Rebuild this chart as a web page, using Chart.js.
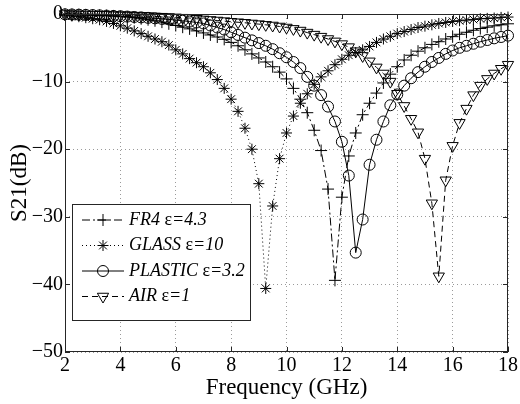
<!DOCTYPE html>
<html>
<head>
<meta charset="utf-8">
<title>S21 vs Frequency</title>
<script src="https://cdn.jsdelivr.net/npm/chart.js@4.4.0/dist/chart.umd.min.js"></script>
<style>
    html, body { margin: 0; padding: 0; background: #ffffff; }
    #wrap { width: 520px; height: 404px; }
</style>
</head>
<body>
<div id="wrap"><canvas id="s21Chart"></canvas></div>
<script>
// Frequency samples (GHz)
const freqGHz = [
    2, 2.25, 2.5, 2.75, 3, 3.25, 3.5, 3.75, 4, 4.25, 4.5, 4.75, 5,
    5.25, 5.5, 5.75, 6, 6.25, 6.5, 6.75, 7, 7.25, 7.5, 7.75, 8,
    8.25, 8.5, 8.75, 9, 9.25, 9.5, 9.75, 10, 10.25, 10.5, 10.75, 11,
    11.25, 11.5, 11.75, 12, 12.25, 12.5, 12.75, 13, 13.25, 13.5, 13.75, 14,
    14.25, 14.5, 14.75, 15, 15.25, 15.5, 15.75, 16, 16.25, 16.5, 16.75, 17,
    17.25, 17.5, 17.75, 18
];

// S21 (dB) per substrate
const fr4Db = [
    -0.05, -0.08, -0.1, -0.13, -0.17, -0.2, -0.25, -0.3, -0.37, -0.45, -0.55, -0.7, -0.85,
    -1.0, -1.2, -1.45, -1.7, -1.95, -2.2, -2.5, -2.8, -3.1, -3.4, -3.75, -4.2,
    -4.7, -5.3, -5.9, -6.5, -7.1, -7.8, -8.6, -9.6, -11.0, -12.6, -14.6, -17.2,
    -20.2, -25.9, -39.4, -27.1, -21.0, -17.6, -14.9, -13.2, -11.7, -10.2, -8.9, -7.8,
    -6.8, -6.1, -5.5, -5.0, -4.5, -4.1, -3.7, -3.35, -3.0, -2.7, -2.4, -2.15,
    -1.95, -1.75, -1.6, -1.45
];
const glassDb = [
    -0.2, -0.3, -0.4, -0.55, -0.7, -0.85, -1.1, -1.4, -1.75, -2.1, -2.5, -2.9, -3.3,
    -3.7, -4.1, -4.6, -5.3, -5.9, -6.6, -7.2, -7.8, -8.7, -9.7, -11.0, -12.6,
    -14.4, -16.9, -20.0, -25.1, -40.6, -28.4, -21.4, -17.6, -15.1, -13.2, -11.8, -10.4,
    -9.3, -8.4, -7.5, -6.7, -6.1, -5.7, -5.3, -4.8, -4.2, -3.7, -3.3, -2.9,
    -2.6, -2.3, -2.0, -1.8, -1.6, -1.4, -1.25, -1.1, -1.0, -0.9, -0.8, -0.7,
    -0.65, -0.6, -0.5, -0.45
];
const plasticDb = [
    -0.05, -0.07, -0.1, -0.13, -0.16, -0.2, -0.24, -0.28, -0.33, -0.38, -0.44, -0.5, -0.57,
    -0.64, -0.72, -0.8, -0.9, -1.0, -1.12, -1.25, -1.4, -1.7, -2.0, -2.3, -2.7,
    -3.1, -3.5, -3.9, -4.3, -4.7, -5.2, -5.8, -6.4, -7.1, -8.0, -9.3, -10.6,
    -12.0, -13.7, -15.9, -18.9, -23.9, -35.3, -30.4, -22.3, -18.6, -15.9, -13.5, -11.9,
    -10.6, -9.5, -8.6, -7.8, -7.1, -6.5, -5.9, -5.4, -5.0, -4.7, -4.4, -4.1,
    -3.85, -3.6, -3.4, -3.2
];
const airDb = [
    0, -0.02, -0.04, -0.06, -0.08, -0.1, -0.12, -0.15, -0.18, -0.21, -0.24, -0.28, -0.32,
    -0.36, -0.4, -0.45, -0.5, -0.55, -0.6, -0.7, -0.8, -0.88, -0.96, -1.05, -1.15,
    -1.22, -1.3, -1.4, -1.5, -1.6, -1.7, -1.85, -2.0, -2.2, -2.45, -2.75, -3.05,
    -3.35, -3.7, -4.05, -4.45, -4.9, -5.5, -6.2, -7.0, -7.9, -8.8, -10.0, -11.8,
    -13.6, -15.5, -17.5, -21.4, -28.0, -38.8, -24.6, -19.5, -16.1, -14.0, -12.0, -10.6,
    -9.6, -8.8, -8.1, -7.5
];

const seriesNames = ['FR4', 'GLASS', 'PLASTIC', 'AIR'];
const seriesEps = ['4.3', '10', '3.2', '1'];
const xTicks = [2, 4, 6, 8, 10, 12, 14, 16, 18];
const yTicks = [0, -10, -20, -30, -40, -50];

const SERIF = '"Liberation Serif", "Times New Roman", serif';
const INK = '#000000';

// marker + line style per series (MATLAB look)
const seriesStyle = [
    { marker: 'cross',    radius: 6,   dash: [8, 3, 2, 3] },
    { marker: 'star',     radius: 5.5, dash: [1, 3] },
    { marker: 'circle',   radius: 5.5, dash: [] },
    { marker: 'triangle', radius: 6.5, dash: [6, 4] }
];

function toPoints(values) {
    return freqGHz.map((f, i) => ({ x: f, y: values[i] }));
}

function minusSign(v) {
    return v < 0 ? '\u2212' + Math.abs(v) : String(v);
}

// Same shapes Chart.js uses, for the legend samples
function drawMarker(ctx, style, x, y, r) {
    ctx.beginPath();
    if (style === 'cross' || style === 'star') {
        ctx.moveTo(x - r, y); ctx.lineTo(x + r, y);
        ctx.moveTo(x, y - r); ctx.lineTo(x, y + r);
        if (style === 'star') {
            const d = r * Math.SQRT1_2;
            ctx.moveTo(x - d, y - d); ctx.lineTo(x + d, y + d);
            ctx.moveTo(x - d, y + d); ctx.lineTo(x + d, y - d);
        }
    } else if (style === 'circle') {
        ctx.arc(x, y, r, 0, Math.PI * 2);
    } else if (style === 'triangle') {
        const s = Math.sin(Math.PI / 3) * r;
        ctx.moveTo(x, y + r);
        ctx.lineTo(x - s, y - r / 2);
        ctx.lineTo(x + s, y - r / 2);
        ctx.closePath();
    }
    ctx.stroke();
}

// Box around the axes with inward ticks
const framePlugin = {
    id: 'frame',
    afterDatasetsDraw(chart) {
        const { ctx, chartArea: a, scales } = chart;
        ctx.save();
        ctx.strokeStyle = '#262626';
        ctx.lineWidth = 1;
        ctx.setLineDash([]);
        ctx.strokeRect(Math.round(a.left) + 0.5, Math.round(a.top) + 0.5,
            Math.round(a.width) - 1, Math.round(a.height) - 1);
        ctx.beginPath();
        scales.x.ticks.forEach(t => {
            const px = Math.round(scales.x.getPixelForValue(t.value)) + 0.5;
            ctx.moveTo(px, a.bottom); ctx.lineTo(px, a.bottom - 5);
            ctx.moveTo(px, a.top); ctx.lineTo(px, a.top + 5);
        });
        scales.y.ticks.forEach(t => {
            const py = Math.round(scales.y.getPixelForValue(t.value)) + 0.5;
            ctx.moveTo(a.left, py); ctx.lineTo(a.left + 5, py);
            ctx.moveTo(a.right, py); ctx.lineTo(a.right - 5, py);
        });
        ctx.stroke();
        ctx.restore();
    }
};

// Legend box in the lower-left of the axes
const legendPlugin = {
    id: 'insetLegend',
    afterDraw(chart) {
        const { ctx, chartArea: a } = chart;
        const left = a.left + 7, top = 204, w = 178, h = 116;
        ctx.save();
        ctx.fillStyle = '#ffffff';
        ctx.fillRect(left, top, w, h);
        ctx.strokeStyle = '#262626';
        ctx.lineWidth = 1;
        ctx.strokeRect(left + 0.5, top + 0.5, w, h);

        chart.data.datasets.forEach((ds, i) => {
            const st = seriesStyle[i];
            const cy = top + 16 + i * 25.5;
            ctx.strokeStyle = INK;
            ctx.lineWidth = 1;
            ctx.setLineDash(st.dash);
            ctx.beginPath();
            ctx.moveTo(left + 10, cy);
            ctx.lineTo(left + 52, cy);
            ctx.stroke();
            ctx.setLineDash([]);
            drawMarker(ctx, st.marker, left + 31, cy, st.radius);

            // name italic, epsilon upright, value italic
            let tx = left + 57;
            ctx.fillStyle = INK;
            ctx.textBaseline = 'middle';
            ctx.font = 'italic 18px ' + SERIF;
            const namePart = seriesNames[i] + ' ';
            ctx.fillText(namePart, tx, cy);
            tx += ctx.measureText(namePart).width;
            ctx.font = '18px ' + SERIF;
            ctx.fillText('\u03b5', tx, cy);
            tx += ctx.measureText('\u03b5').width;
            ctx.font = 'italic 18px ' + SERIF;
            ctx.fillText('=' + seriesEps[i], tx, cy);
        });
        ctx.restore();
    }
};

const seriesValues = [fr4Db, glassDb, plasticDb, airDb];

const datasets = seriesValues.map((vals, i) => ({
    label: seriesNames[i] + ' \u03b5=' + seriesEps[i],
    data: toPoints(vals),
    borderColor: INK,
    borderWidth: 1,
    borderDash: seriesStyle[i].dash,
    backgroundColor: 'rgba(0,0,0,0)',
    pointStyle: seriesStyle[i].marker,
    pointRotation: seriesStyle[i].marker === 'triangle' ? 180 : 0,
    pointRadius: seriesStyle[i].radius,
    pointBorderColor: INK,
    pointBorderWidth: 1,
    pointBackgroundColor: 'rgba(0,0,0,0)',
    tension: 0,
    fill: false,
    clip: false
}));

new Chart(document.getElementById('s21Chart'), {
    type: 'line',
    data: { datasets: datasets },
    options: {
        responsive: true,
        maintainAspectRatio: false,
        animation: false,
        devicePixelRatio: 1,
        layout: { padding: { top: 7, right: 11, left: 0, bottom: 0 } },
        plugins: {
            legend: { display: false },
            tooltip: { enabled: false }
        },
        scales: {
            x: {
                type: 'linear',
                min: 2,
                max: 18,
                afterBuildTicks: (scale) => { scale.ticks = xTicks.map(v => ({ value: v })); },
                afterFit: (scale) => { scale.height = 52; },
                grid: { color: '#9a9a9a', lineWidth: 1, drawTicks: false },
                border: { display: false, dash: [1, 3] },
                ticks: {
                    color: INK,
                    padding: 2,
                    maxRotation: 0,
                    font: { family: SERIF, size: 20 },
                    callback: (v) => minusSign(v)
                },
                title: {
                    display: true,
                    text: 'Frequency (GHz)',
                    color: INK,
                    padding: { top: 0, bottom: 2 },
                    font: { family: SERIF, size: 23 }
                }
            },
            y: {
                type: 'linear',
                min: -50,
                max: 0,
                afterBuildTicks: (scale) => { scale.ticks = yTicks.map(v => ({ value: v })); },
                afterFit: (scale) => { scale.width = 65; },
                grid: { color: '#9a9a9a', lineWidth: 1, drawTicks: false },
                border: { display: false, dash: [1, 3] },
                ticks: {
                    color: INK,
                    padding: 2,
                    font: { family: SERIF, size: 20 },
                    callback: (v) => minusSign(v)
                },
                title: {
                    display: true,
                    text: 'S21(dB)',
                    color: INK,
                    padding: { top: 6, bottom: 0 },
                    font: { family: SERIF, size: 23 }
                }
            }
        }
    },
    plugins: [framePlugin, legendPlugin]
});
</script>
</body>
</html>
